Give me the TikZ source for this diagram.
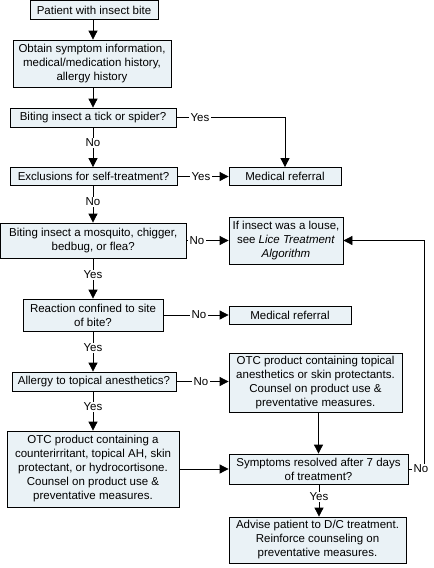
\documentclass[tikz,border=0pt]{standalone}
\usepackage{fontspec}
\setmainfont{Liberation Sans}
\usetikzlibrary{arrows.meta}
\definecolor{boxfill}{RGB}{234,242,246}
\begin{document}
\begin{tikzpicture}[x=1pt,y=-1pt,
  txt/.style={font=\fontsize{11.5}{14}\selectfont},
  box/.style={txt, draw=black, line width=0.8pt, fill=boxfill, align=center, inner sep=0pt},
  arr/.style={line width=0.8pt, -{Triangle[length=9pt,width=9pt]}},
  lbl/.style={txt, fill=white, inner sep=1.2pt}]
\useasboundingbox[fill=white] (0,0) rectangle (434,568);

\node[box, minimum width=128pt, minimum height=19pt] (b1) at (94,10) {Patient with insect bite};
\node[box, minimum width=158pt, minimum height=47pt] (b2) at (92,63.5) {Obtain symptom information,\\ medical/medication history,\\ allergy history};
\node[box, minimum width=166pt, minimum height=19pt] (b3) at (93,117.5) {Biting insect a tick or spider?};
\node[box, minimum width=167pt, minimum height=18pt] (b4) at (93.5,176.5) {Exclusions for self-treatment?};
\node[box, minimum width=112pt, minimum height=18pt] (mr1) at (285,176.5) {Medical referral};
\node[box, minimum width=185.5pt, minimum height=35pt] (b5) at (93.25,240.5) {Biting insect a mosquito, chigger,\\ bedbug, or flea?};
\node[box, minimum width=114pt, minimum height=47pt] (b6) at (286,240.5) {If insect was a louse,\\ see \textit{Lice Treatment}\\ \textit{Algorithm}};
\node[box, minimum width=140pt, minimum height=32pt] (b7) at (93,315) {Reaction confined to site\\ of bite?};
\node[box, minimum width=122pt, minimum height=18pt] (mr2) at (290,315) {Medical referral};
\node[box, minimum width=164pt, minimum height=19pt] (b8) at (94,381.5) {Allergy to topical anesthetics?};
\node[box, minimum width=173pt, minimum height=59pt] (b9) at (315.5,382.5) {OTC product containing topical\\ anesthetics or skin protectants.\\ Counsel on product use \&\\ preventative measures.};
\node[box, minimum width=172pt, minimum height=76pt] (b10) at (93,469) {OTC product containing a\\ counterirritant, topical AH, skin\\ protectant, or hydrocortisone.\\ Counsel on product use \&\\ preventative measures.};
\node[box, minimum width=179pt, minimum height=30pt] (b11) at (318.5,469) {Symptoms resolved after 7 days\\ of treatment?};
\node[box, minimum width=177pt, minimum height=46pt] (b12) at (317.5,540) {Advise patient to D/C treatment.\\ Reinforce counseling on\\ preventative measures.};

\coordinate (loopA) at (424,469);
\coordinate (loopB) at (424,240.5);

% vertical spine
\draw[arr] (b1.south -| 93,0) -- (b2.north -| 93,0);
\draw[arr] (b2.south -| 93,0) -- (b3.north -| 93,0);
\draw[arr] (b3.south -| 93,0) -- (b4.north -| 93,0);
\draw[arr] (b4.south -| 93,0) -- (b5.north -| 93,0);
\draw[arr] (b5.south -| 93,0) -- (b7.north -| 93,0);
\draw[arr] (b7.south -| 93,0) -- (b8.north -| 93,0);
\draw[arr] (b8.south -| 93,0) -- (b10.north -| 93,0);

% horizontal
\draw[arr] (b3.east) -| (mr1.north);
\draw[arr] (b4.east) -- (mr1.west);
\draw[arr] (b5.east) -- (b6.west);
\draw[arr] (b7.east) -- (b7.east -| mr2.west);
\draw[arr] (b8.east) -- (b8.east -| b9.west);
\draw[arr] (b10.east) -- (b10.east -| b11.west);
\draw[arr] (b11.north |- b9.south) -- (b11.north);
\draw[arr] (b11.south -| 319,0) -- (b12.north -| 319,0);
\draw[arr] (b11.east) -- (loopA) -- (loopB) -- (b6.east);

% labels
\node[lbl] at (93,143) {No};
\node[lbl] at (93,202) {No};
\node[lbl] at (93,275) {Yes};
\node[lbl] at (93,348) {Yes};
\node[lbl] at (93,407) {Yes};
\node[lbl] at (319,497) {Yes};
\node[lbl] at (200,117.5) {Yes};
\node[lbl] at (201,176.5) {Yes};
\node[lbl] at (197,240.5) {No};
\node[lbl] at (199,315) {No};
\node[lbl] at (201,381.5) {No};
\node[lbl] at (421,469) {No};
\end{tikzpicture}
\end{document}
